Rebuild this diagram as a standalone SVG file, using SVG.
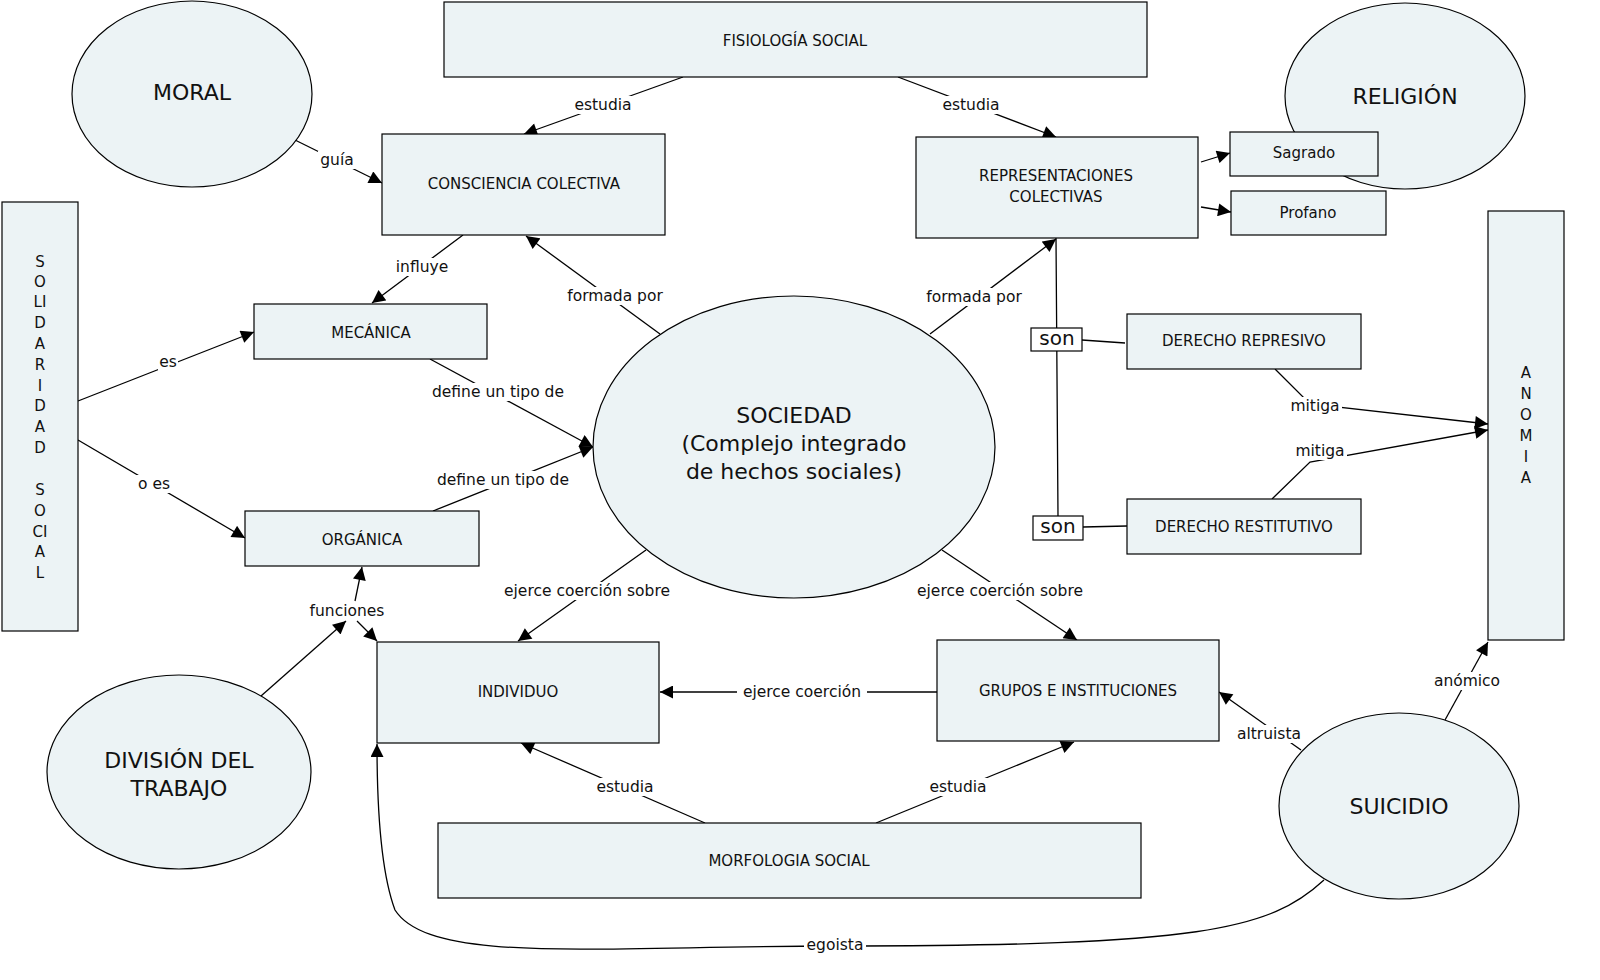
<svg xmlns="http://www.w3.org/2000/svg" width="1600" height="980" viewBox="0 0 1600 980">
<style>
.n{fill:#ecf3f5;stroke:#000;stroke-width:1.2}
.t{font-family:"DejaVu Sans",Verdana,sans-serif;font-size:15px;text-anchor:middle;dominant-baseline:middle;fill:#111}
.b{font-size:22px}
.c{stroke:#000;stroke-width:1.3;fill:none}
.l{font-family:"DejaVu Sans",Verdana,sans-serif;font-size:15.5px;text-anchor:middle;dominant-baseline:middle;fill:#111}
.lb{fill:#fff}
</style>
<defs><marker id="a" viewBox="0 0 10 10" refX="10" refY="5" markerWidth="14" markerHeight="13" markerUnits="userSpaceOnUse" orient="auto"><path d="M0,0L10,5L0,10z" fill="#000"/></marker></defs>
<rect width="1600" height="980" fill="#fff"/>
<g id="connectors">
<path class="c" d="M683,77L524,134" marker-end="url(#a)"/>
<path class="c" d="M898,77L1056,137" marker-end="url(#a)"/>
<path class="c" d="M295,140L382,183" marker-end="url(#a)"/>
<path class="c" d="M1201,162L1230,153" marker-end="url(#a)"/>
<path class="c" d="M1201,207L1231,212" marker-end="url(#a)"/>
<path class="c" d="M463,235L372,303" marker-end="url(#a)"/>
<path class="c" d="M660,334L526,236" marker-end="url(#a)"/>
<path class="c" d="M930,334L1056,239" marker-end="url(#a)"/>
<path class="c" d="M78,401L254,332" marker-end="url(#a)"/>
<path class="c" d="M78,440L245,538" marker-end="url(#a)"/>
<path class="c" d="M430,359L593,447" marker-end="url(#a)"/>
<path class="c" d="M433,511L593,447" marker-end="url(#a)"/>
<path class="c" d="M1056,238L1058,516M1082,340L1125,343M1083,527L1127,526"/>
<path class="c" d="M1275,369L1310,404L1488,424" marker-end="url(#a)"/>
<path class="c" d="M1272,499L1310,462L1488,430" marker-end="url(#a)"/>
<path class="c" d="M646,550L518,641" marker-end="url(#a)"/>
<path class="c" d="M942,550L1077,640" marker-end="url(#a)"/>
<path class="c" d="M937,692L660,692" marker-end="url(#a)"/>
<path class="c" d="M705,823L521,743" marker-end="url(#a)"/>
<path class="c" d="M876,823L1074,742" marker-end="url(#a)"/>
<path class="c" d="M261,696L346,621" marker-end="url(#a)"/>
<path class="c" d="M355,601L362,567" marker-end="url(#a)"/>
<path class="c" d="M357,621L377,641" marker-end="url(#a)"/>
<path class="c" d="M1301,750L1219,692" marker-end="url(#a)"/>
<path class="c" d="M1445,720L1488,642" marker-end="url(#a)"/>
<path class="c" d="M1324,880C1270,930 1200,946 835,946C600,946 430,965 395,910C380,870 377,800 377,744" marker-end="url(#a)"/>
<g>
<rect class="lb" x="572" y="96" width="62" height="18"/><text class="l" x="603" y="105">estudia</text>
<rect class="lb" x="940" y="96" width="62" height="18"/><text class="l" x="971" y="105">estudia</text>
<rect class="lb" x="318" y="151" width="38" height="18"/><text class="l" x="337" y="160">guía</text>
<rect class="lb" x="393" y="258" width="58" height="18"/><text class="l" x="422" y="267">influye</text>
<rect class="lb" x="561" y="287" width="108" height="18"/><text class="l" x="615" y="296">formada por</text>
<rect class="lb" x="920" y="288" width="108" height="18"/><text class="l" x="974" y="297">formada por</text>
<rect class="lb" x="158" y="353" width="20" height="18"/><text class="l" x="168" y="362">es</text>
<rect class="lb" x="136" y="475" width="36" height="18"/><text class="l" x="154" y="484">o es</text>
<rect class="lb" x="425" y="383" width="146" height="18"/><text class="l" x="498" y="392">define un tipo de</text>
<rect class="lb" x="430" y="471" width="146" height="18"/><text class="l" x="503" y="480">define un tipo de</text>
<rect class="lb" x="1288" y="397" width="54" height="18"/><text class="l" x="1315" y="406">mitiga</text>
<rect class="lb" x="1293" y="442" width="54" height="18"/><text class="l" x="1320" y="451">mitiga</text>
<rect class="lb" x="495" y="582" width="184" height="18"/><text class="l" x="587" y="591">ejerce coerción sobre</text>
<rect class="lb" x="908" y="582" width="184" height="18"/><text class="l" x="1000" y="591">ejerce coerción sobre</text>
<rect class="lb" x="737" y="683" width="130" height="18"/><text class="l" x="802" y="692">ejerce coerción</text>
<rect class="lb" x="594" y="778" width="62" height="18"/><text class="l" x="625" y="787">estudia</text>
<rect class="lb" x="927" y="778" width="62" height="18"/><text class="l" x="958" y="787">estudia</text>
<rect class="lb" x="307" y="602" width="80" height="18"/><text class="l" x="347" y="611">funciones</text>
<rect class="lb" x="1235" y="725" width="70" height="18"/><text class="l" x="1269" y="734">altruista</text>
<rect class="lb" x="1432" y="672" width="72" height="18"/><text class="l" x="1467" y="681">anómico</text>
<rect class="lb" x="804" y="936" width="62" height="18"/><text class="l" x="835" y="945">egoista</text>
</g>
</g>
<g id="fisiologia"><rect class="n" x="444" y="2" width="703" height="75"/><text class="t" x="795" y="41">FISIOLOGÍA SOCIAL</text></g>
<g id="moral"><ellipse class="n" cx="192" cy="94" rx="120" ry="93"/><text class="t b" x="192" y="94">MORAL</text></g>
<g id="religion"><ellipse class="n" cx="1405" cy="96" rx="120" ry="93"/><text class="t b" x="1405" y="98">RELIGIÓN</text></g>
<g id="consciencia"><rect class="n" x="382" y="134" width="283" height="101"/><text class="t" x="524" y="184">CONSCIENCIA COLECTIVA</text></g>
<g id="representaciones"><rect class="n" x="916" y="137" width="282" height="101"/><text class="t" x="1056" y="176">REPRESENTACIONES</text><text class="t" x="1056" y="197">COLECTIVAS</text></g>
<g id="sagrado"><rect class="n" x="1230" y="132" width="148" height="44"/><text class="t" x="1304" y="153">Sagrado</text></g>
<g id="profano"><rect class="n" x="1231" y="191" width="155" height="44"/><text class="t" x="1308" y="213">Profano</text></g>
<g id="solidaridad"><rect class="n" x="2" y="202" width="76" height="429"/>
<text class="t" x="40" y="262">S</text><text class="t" x="40" y="282">O</text><text class="t" x="40" y="302">LI</text><text class="t" x="40" y="323">D</text><text class="t" x="40" y="344">A</text><text class="t" x="40" y="365">R</text><text class="t" x="40" y="386">I</text><text class="t" x="40" y="406">D</text><text class="t" x="40" y="427">A</text><text class="t" x="40" y="448">D</text><text class="t" x="40" y="490">S</text><text class="t" x="40" y="511">O</text><text class="t" x="40" y="532">CI</text><text class="t" x="40" y="552">A</text><text class="t" x="40" y="573">L</text></g>
<g id="anomia"><rect class="n" x="1488" y="211" width="76" height="429"/><text class="t" x="1526" y="373">A</text><text class="t" x="1526" y="394">N</text><text class="t" x="1526" y="415">O</text><text class="t" x="1526" y="436">M</text><text class="t" x="1526" y="457">I</text><text class="t" x="1526" y="478">A</text></g>
<g id="mecanica"><rect class="n" x="254" y="304" width="233" height="55"/><text class="t" x="371" y="333">MECÁNICA</text></g>
<g id="organica"><rect class="n" x="245" y="511" width="234" height="55"/><text class="t" x="362" y="540">ORGÁNICA</text></g>
<g id="sociedad"><ellipse class="n" cx="794" cy="447" rx="201" ry="151"/><text class="t b" x="794" y="417">SOCIEDAD</text><text class="t b" x="794" y="445">(Complejo integrado</text><text class="t b" x="794" y="473">de hechos sociales)</text></g>
<g id="son1"><rect class="n" x="1031" y="328" width="51" height="23" style="fill:#fff"/><text class="t" x="1057" y="339" style="font-size:20px">son</text></g>
<g id="son2"><rect class="n" x="1033" y="516" width="50" height="24" style="fill:#fff"/><text class="t" x="1058" y="527" style="font-size:20px">son</text></g>
<g id="represivo"><rect class="n" x="1127" y="314" width="234" height="55"/><text class="t" x="1244" y="341">DERECHO REPRESIVO</text></g>
<g id="restitutivo"><rect class="n" x="1127" y="499" width="234" height="55"/><text class="t" x="1244" y="527">DERECHO RESTITUTIVO</text></g>
<g id="individuo"><rect class="n" x="377" y="642" width="282" height="101"/><text class="t" x="518" y="692">INDIVIDUO</text></g>
<g id="grupos"><rect class="n" x="937" y="640" width="282" height="101"/><text class="t" x="1078" y="691">GRUPOS E INSTITUCIONES</text></g>
<g id="division"><ellipse class="n" cx="179" cy="772" rx="132" ry="97"/><text class="t b" x="179" y="762">DIVISIÓN DEL</text><text class="t b" x="179" y="790">TRABAJO</text></g>
<g id="suicidio"><ellipse class="n" cx="1399" cy="806" rx="120" ry="93"/><text class="t b" x="1399" y="808">SUICIDIO</text></g>
<g id="morfologia"><rect class="n" x="438" y="823" width="703" height="75"/><text class="t" x="789" y="861">MORFOLOGIA SOCIAL</text></g>
</svg>
